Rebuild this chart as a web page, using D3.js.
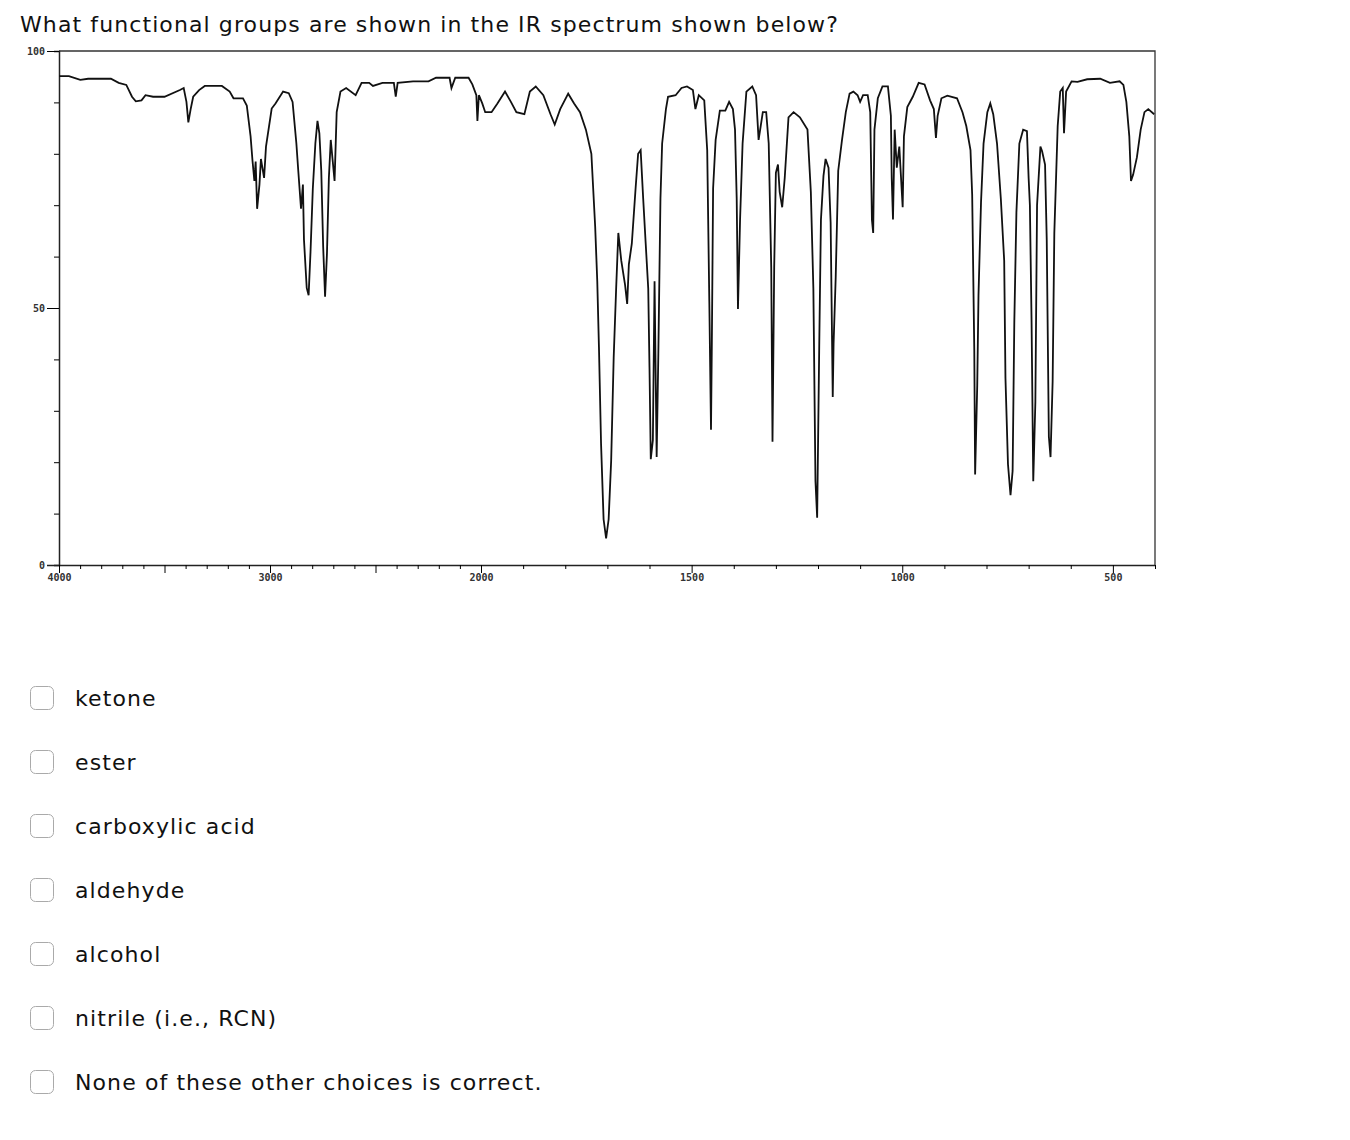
<!DOCTYPE html>
<html>
<head>
<meta charset="utf-8">
<script src="https://cdn.jsdelivr.net/npm/d3@7"></script>
<style>
  body { margin: 0; background: #fff; }
  svg { display: block; }
</style>
</head>
<body>
<div id="chart-area"></div>
<script>
// spectrum: wavenumber (cm-1) and % transmittance
var wavenumbers = [4000,3953,3899,3862,3754,3717,3681,3654,3636,3609,3590,3554,3500,3427,3409,3396,3387,3376,3364,3336,3309,3228,3191,3173,3128,3110,3092,3083,3074,3068,3061,3050,3043,3028,3019,2992,2974,2938,2911,2893,2875,2866,2853,2844,2839,2826,2817,2808,2797,2785,2775,2766,2757,2748,2739,2730,2721,2712,2703,2694,2684,2666,2639,2594,2566,2530,2512,2467,2413,2404,2395,2322,2249,2213,2149,2140,2122,2059,2041,2022,2017,2010,1997,1990,1975,1961,1943,1929,1916,1897,1884,1870,1852,1835,1825,1812,1793,1779,1765,1751,1738,1729,1724,1720,1715,1709,1703,1697,1691,1685,1679,1674,1667,1658,1653,1649,1642,1633,1627,1621,1615,1609,1603,1600,1597,1592,1588,1583,1579,1574,1570,1561,1556,1538,1524,1511,1497,1491,1483,1470,1463,1458,1454,1452,1449,1443,1433,1420,1411,1402,1397,1393,1390,1385,1379,1370,1356,1347,1341,1336,1331,1323,1317,1311,1308,1304,1300,1295,1291,1285,1279,1270,1258,1243,1225,1217,1211,1206,1202,1197,1193,1187,1182,1175,1170,1165,1163,1158,1152,1143,1134,1125,1116,1106,1100,1093,1082,1076,1072,1069,1066,1058,1047,1034,1027,1025,1022,1018,1013,1007,999,996,988,975,961,947,934,925,920,916,907,893,870,857,848,838,834,829,827,822,819,813,807,798,791,784,775,766,758,755,749,743,738,734,729,722,713,704,700,697,693,689,684,680,672,668,661,657,652,648,643,639,631,625,619,616,611,598,584,561,530,507,484,475,468,461,457,452,443,434,425,416,402];
var transmittance = [95.1,95.1,94.4,94.6,94.6,93.8,93.4,91.1,90.2,90.4,91.4,91.1,91.1,92.4,92.8,90.1,86.1,88.7,91.1,92.4,93.2,93.2,92.1,90.8,90.8,89.4,83.4,78.7,74.7,78.5,69.3,74,79,75.3,81.4,88.8,89.8,92.1,91.8,90.1,82,76.7,69.3,74,63.3,53.9,52.5,60.9,73.3,82,86.4,84,76.7,61.9,52.2,60.6,75.3,82.7,78.7,74.7,88.1,92.1,92.8,91.4,93.8,93.8,93.2,93.8,93.8,91.1,93.8,94.1,94.1,94.8,94.8,92.8,94.8,94.8,93.5,91.4,86.4,91.4,89.8,88.1,88.1,89.8,92.1,90.1,88.1,87.7,92.1,93.1,91.4,87.7,85.7,88.7,91.7,89.8,88.1,84.7,80,65.9,55.2,42.4,23.6,8.9,5.2,8.9,20.3,40.4,54.2,64.6,59.2,54.5,50.8,58.5,62.5,73.3,80,80.7,71.3,62.5,53.8,38.4,20.6,24.3,55.2,21,41.1,71.3,82,88.7,91.1,91.4,92.8,93.1,92.4,88.7,91.4,90.4,80.7,51.2,26.3,43.1,73.3,82.7,88.4,88.4,90.1,88.7,84.7,71.3,49.8,67.2,82,92.1,93.1,91.4,82.7,85.4,88.1,88.1,82,57.9,24,57.9,76.3,77.9,72.6,69.6,75.3,87.1,88.1,87.1,84.7,72.6,53.8,16.3,9.2,43.1,67.2,75.7,79,77.3,66.6,32.7,43.1,55.9,76.7,82.7,88.1,91.7,92.1,91.4,90.1,91.4,91.4,88.1,67.2,64.6,84.7,90.8,93.1,93.1,87.4,75.3,67.2,84.7,77.3,81.4,69.6,83.4,89.1,91.1,93.8,93.5,90.4,88.7,83.1,87.4,90.8,91.3,90.8,88.1,85.4,80.7,72,41.8,17.6,34.9,52.5,70.6,82,88.1,89.8,87.7,82,71.3,59.2,36.4,19.6,13.6,18.3,47.2,68.6,82,84.7,84.4,75.3,70,47.2,16.3,31.7,70,81.4,80.5,77.9,63.3,25,21,35.7,64.6,85.4,92.1,92.8,84,92.1,94.1,94,94.5,94.6,93.8,94.1,93.4,90.1,83.4,74.7,75.9,79.3,84.7,88.1,88.7,87.7];

var yTickLabels = ["0", "50", "100"];
var xTickLabels = ["4000", "3000", "2000", "1500", "1000", "500"];

var question = "What functional groups are shown in the IR spectrum shown below?";
var choices = ["ketone", "ester", "carboxylic acid", "aldehyde", "alcohol",
               "nitrile (i.e., RCN)", "None of these other choices is correct."];

var svg = d3.select("#chart-area").append("svg")
    .attr("width", 1350).attr("height", 1140);

// x scale: the spectrum changes scale at 2000 cm-1
var xScale = d3.scaleLinear()
    .domain([4000, 2000, 400])
    .range([59, 481, 1155]);
var yScale = d3.scaleLinear()
    .domain([0, 100])
    .range([565, 51]);

svg.append("text")
    .attr("x", 20).attr("y", 32)
    .attr("font-family", "DejaVu Sans, Verdana, sans-serif")
    .attr("font-size", "22px")
    .attr("letter-spacing", "1.1px")
    .attr("fill", "#111")
    .text(question);

// frame
svg.append("path")
    .attr("d", "M59,51H1155V565")
    .attr("fill", "none").attr("stroke", "#333").attr("stroke-width", 1.3);

// y axis
var left_axis = d3.axisLeft(yScale)
    .tickValues(d3.range(0, 101, 10))
    .tickSize(5)
    .tickFormat(d => yTickLabels.indexOf(String(d)) >= 0 ? String(d) : "");
var gy = svg.append("g").attr("transform", "translate(59,0)").call(left_axis);
gy.select(".domain").attr("stroke", "#222").attr("stroke-width", 1.5);
gy.selectAll("text").attr("font-family", "DejaVu Sans Mono, monospace")
    .attr("font-size", "10px").attr("font-weight", "bold").attr("fill", "#333").attr("dx", "-6");
gy.selectAll(".tick").filter(d => d % 50 === 0).select("line").attr("x2", -12);

// x axis
var xTicks = d3.range(400, 4001, 100);
var bottom_axis = d3.axisBottom(xScale)
    .tickValues(xTicks)
    .tickSize(4)
    .tickFormat(d => xTickLabels.indexOf(String(d)) >= 0 ? String(d) : "");
var gx = svg.append("g").attr("transform", "translate(0,565)").call(bottom_axis);
gx.select(".domain").attr("d", "M47,0.5H1155").attr("stroke", "#222").attr("stroke-width", 1.5);
gx.selectAll(".tick").filter(d => d % 500 === 0).select("line").attr("y2", 8);
gx.selectAll("text").attr("font-family", "DejaVu Sans Mono, monospace")
    .attr("font-size", "10px").attr("font-weight", "bold").attr("fill", "#333").attr("dy", "0.9em");

// spectrum
var points = wavenumbers.map((w, i) => [w, transmittance[i]]);
var line = d3.line()
    .x(d => xScale(d[0]))
    .y(d => yScale(d[1]));
svg.append("path")
    .datum(points)
    .attr("d", line)
    .attr("fill", "none")
    .attr("stroke", "#111")
    .attr("stroke-width", 1.8);

// answer choices
var rows = svg.selectAll(".choice").data(choices).enter().append("g")
    .attr("class", "choice")
    .attr("transform", (d, i) => "translate(0," + (698 + i * 64) + ")");
rows.append("rect")
    .attr("x", 30.5).attr("y", -11.5).attr("width", 23).attr("height", 23)
    .attr("rx", 5).attr("fill", "#fff").attr("stroke", "#aaa").attr("stroke-width", 1);
rows.append("text")
    .attr("x", 75).attr("y", 8)
    .attr("font-family", "DejaVu Sans, Verdana, sans-serif")
    .attr("font-size", "22px").attr("letter-spacing", "1.1px").attr("fill", "#111")
    .text(d => d);
</script>
</body>
</html>
